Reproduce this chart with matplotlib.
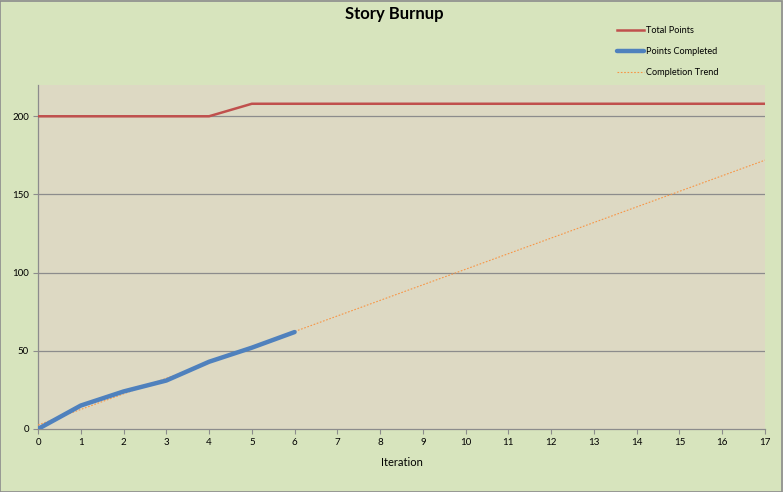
import numpy as np
import matplotlib
matplotlib.use("Agg")
import matplotlib.pyplot as plt
from matplotlib.patches import Rectangle

plt.rcParams['font.family'] = ['Lato', 'DejaVu Sans']

iterations = list(range(0, 18))
total_points = [200, 200, 200, 200, 200, 208, 208, 208, 208, 208, 208, 208, 208, 208, 208, 208, 208, 208]
completed_iter = [0, 1, 2, 3, 4, 5, 6]
points_completed = [0, 15, 24, 31, 43, 52, 62]
y_ticks = [0, 50, 100, 150, 200]

# linear trendline as Excel computes it (least squares on completed points)
slope, intercept = np.polyfit(completed_iter, points_completed, 1)
trend_x = np.array([iterations[0], iterations[-1]])
trend_y = slope * trend_x + intercept

fig = plt.figure(figsize=(7.83, 4.92), dpi=100)
fig.patch.set_facecolor('#D7E4BD')
fig.patches.append(Rectangle((0.0005, 0.001), 0.998, 0.997, transform=fig.transFigure,
                             fill=False, edgecolor='#8C8C8C', linewidth=1.2))

ax = fig.add_axes([38/783, 1-429/492, (765-38)/783, (429-85)/492])
ax.set_facecolor('#DDD9C3')

for t in y_ticks[1:]:
    ax.axhline(t, color='#8C8C8C', linewidth=0.9, zorder=1)

ax.plot(iterations, total_points, color='#C0504D', linewidth=1.8, label='Total Points', zorder=3)
ax.plot(completed_iter, points_completed, color='#4F81BD', linewidth=3.2, label='Points Completed',
        zorder=4, solid_capstyle='round')
ax.plot(trend_x, trend_y, color='#F79646', linewidth=0.8, linestyle=(0, (1.5, 1.5)),
        label='Completion Trend', zorder=3)

ax.set_xlim(0, 17)
ax.set_ylim(0, 220)
ax.set_xticks(iterations)
ax.set_yticks(y_ticks)
ax.tick_params(axis='x', labelsize=7, length=3.5, direction='out', color='#8C8C8C', pad=3)
ax.tick_params(axis='y', labelsize=7, length=3.5, direction='out', color='#8C8C8C', pad=3)
for s in ['top', 'right']:
    ax.spines[s].set_visible(False)
for s in ['left', 'bottom']:
    ax.spines[s].set_color('#8C8C8C')
    ax.spines[s].set_linewidth(0.9)

ax.set_xlabel('Iteration', fontsize=8, labelpad=7)

fig.text(394/783, 1-14/492, 'Story Burnup', ha='center', va='center', fontsize=12, fontweight='bold')

leg = fig.legend(loc='upper left', bbox_to_anchor=(609/783, 1-18/492), frameon=False,
                 fontsize=6.6, handlelength=2.95, handletextpad=0.15, labelspacing=1.3)

fig.savefig('out.png', dpi=100, facecolor=fig.get_facecolor())
